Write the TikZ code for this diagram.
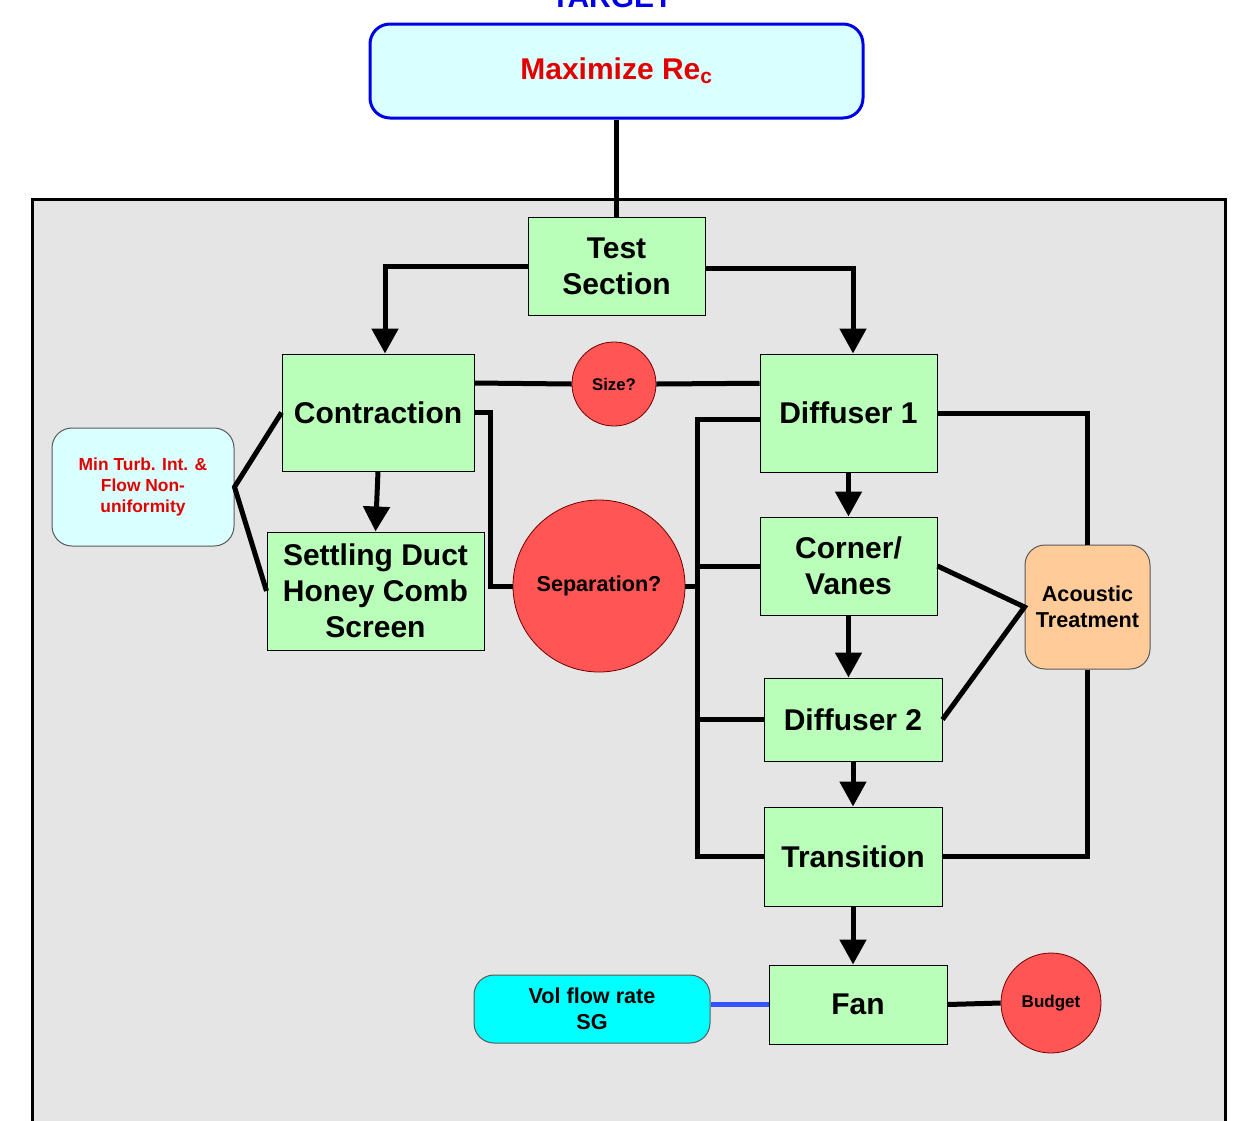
\documentclass[tikz,border=0pt]{standalone}
\usepackage{fontspec}
\setmainfont{Liberation Sans}
\usetikzlibrary{calc,positioning,arrows.meta}
\definecolor{framegray}{RGB}{229,229,229}
\definecolor{boxgreen}{RGB}{185,255,185}
\definecolor{bubblered}{RGB}{255,85,85}
\definecolor{paleblue}{RGB}{218,255,255}
\definecolor{peach}{RGB}{255,204,153}
\definecolor{flowcyan}{RGB}{0,255,255}
\definecolor{linkblue}{RGB}{51,85,255}
\definecolor{textred}{RGB}{225,0,0}
\definecolor{targetblue}{RGB}{0,0,230}
\newcommand{\bigfont}{\fontsize{30}{36}\selectfont\bfseries}
\newcommand{\midfont}{\fontsize{21.6}{26}\selectfont\bfseries}
\newcommand{\smallfont}{\fontsize{17.4}{21}\selectfont\bfseries}
\tikzset{
	block/.style={draw=black, line width=1pt, fill=boxgreen, align=center, inner sep=0pt, font=\bigfont},
	bubble/.style={circle, draw=red!45!black, line width=0.8pt, fill=bubblered, inner sep=0pt, align=center},
	note/.style={rounded corners=20pt, draw, line width=1pt, inner sep=0pt, align=center},
	link/.style={line width=5pt},
	flow/.style={link, -{Triangle[length=25pt,width=26pt]}}
}

\begin{document}
\begin{tikzpicture}[x=1pt,y=-1pt]
\useasboundingbox (0,0) rectangle (1239,1120);

       \draw[line width=3pt, fill=framegray] (32,199) rectangle (1225,1150);
       
       \node[font=\bigfont, text=targetblue] (title) at (612,-3) {TARGET};
       
       \node[note, draw=targetblue, line width=3pt, fill=paleblue, minimum width=493pt, minimum height=94pt, text=textred, font=\bigfont] (target) at (616.5,71) {Maximize Re\textsubscript{c}};
       
       \node[block, minimum width=177pt, minimum height=98pt] (test) at (616.5,266) {Test\\Section};
       \node[block, minimum width=192pt, minimum height=117pt] (contr) at (378,412.5) {Contraction};
       \node[block, minimum width=217pt, minimum height=118pt] (settle) at (375.5,591) {Settling Duct\\Honey Comb\\Screen};
       
       \node[block, minimum width=177pt, minimum height=118pt] (diff1) at (848.5,413) {Diffuser 1};
       \node[block, minimum width=177pt, minimum height=98pt] (corner) at (848.5,566) {Corner/\\Vanes};
       \node[block, minimum width=178pt, minimum height=83pt] (diff2) at (853,719.5) {Diffuser 2};
       \node[block, minimum width=178pt, minimum height=99pt] (trans) at (853,856.5) {Transition};
       \node[block, minimum width=178pt, minimum height=79pt] (fan) at (858,1004.5) {Fan};
       
       \node[note, draw=gray!70!black, fill=paleblue, minimum width=182pt, minimum height=118pt, text=textred, font=\smallfont] (minturb) at (143,487) {Min Turb. Int. \&\\Flow Non-\\uniformity};
       \node[note, draw=gray!70!black, fill=peach, minimum width=125pt, minimum height=124pt, font=\midfont] (acou) at (1087.5,607) {Acoustic\\Treatment};
       \node[note, draw=gray!70!black, fill=flowcyan, minimum width=236pt, minimum height=68pt, font=\midfont] (vol) at (592,1009) {Vol flow rate\\SG};
       
       \node[bubble, minimum size=84pt, font=\fontsize{16.8}{20}\selectfont\bfseries] (size) at (614,384) {Size?};
       \node[bubble, minimum size=172pt, font=\midfont] (sep) at (599,586) {Separation?};
       \node[bubble, minimum size=100pt, font=\fontsize{17}{20}\selectfont\bfseries] (budget) at (1051,1003) {Budget};
       
       % main flow
       \draw[link] (target.south) -- (test.north);
       \draw[flow] (test.west) -| ([xshift=7pt]contr.north);
       \draw[flow] ([yshift=-2pt]test.east) -| ([xshift=4.5pt]diff1.north);
       \draw[flow] (contr.south) -- (settle.north);
       \draw[flow] (diff1.south) -- (corner.north);
       \draw[flow] (corner.south) -- (corner.south |- diff2.north);
       \draw[flow] (diff2.south) -- (trans.north);
       \draw[flow] (trans.south) -- (trans.south |- fan.north);
       
       % size and separation
       \draw[link] ($(contr.north east)!0.25!(contr.south east)$) -- (size.west);
       \draw[link] (size.east) -- ($(diff1.north west)!0.25!(diff1.south west)$);
       \draw[link] (contr.east) -- ++(16,0) |- (sep.west);
       
       \coordinate (bustop) at (697,419);
       \coordinate (busbot) at (697,856.5);
       \draw[link] ([yshift=-6pt]diff1.west) -- (bustop) -- (busbot) -- (trans.west);
       \draw[link] (corner.west) -- (corner.west -| bustop);
       \draw[link] (diff2.west) -- (diff2.west -| bustop);
       \draw[link] (sep.east) -- (sep.east -| bustop);
       
       % flow quality
       \draw[link] (contr.west) -- (minturb.east) -- (settle.west);
       
       % acoustics
       \draw[link] (diff1.east) -| (acou.north);
       \draw[link] (acou.south) |- (trans.east);
       \draw[link] (corner.east) -- (acou.west) -- (diff2.east);
       
       % fan
       \draw[link, draw=linkblue] (vol.east |- fan.west) -- (fan.west);
       \draw[link] (fan.east) -- (budget.west);
\end{tikzpicture}
\end{document}
